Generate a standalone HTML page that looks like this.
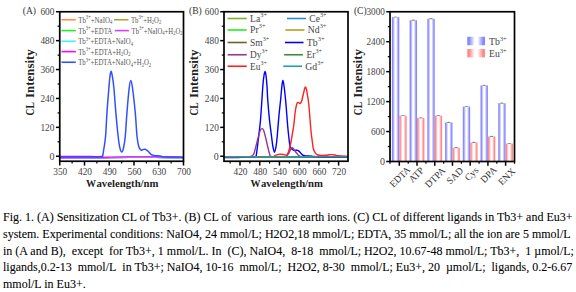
<!DOCTYPE html>
<html><head><meta charset="utf-8"><style>
html,body{margin:0;padding:0;background:#fff;}
body{width:576px;height:292px;position:relative;overflow:hidden;}
.ln{position:absolute;left:3px;width:620px;font-family:"Liberation Serif",serif;font-size:13px;line-height:15px;color:#000;white-space:nowrap;height:15px;transform:scaleX(0.923);transform-origin:0 0;-webkit-text-stroke:0.08px #000}
.j{text-align:justify;text-align-last:justify;white-space:normal}
</style></head><body>
<svg width="576" height="200" viewBox="0 0 576 200" style="position:absolute;left:0;top:0" font-family='"Liberation Serif", serif'>
<text x="29.4" y="13.6" font-size="9.6" text-anchor="middle" font-weight="normal" fill="#333">(A)</text>
<line x1="55.95" y1="156.25" x2="59.75" y2="156.25" stroke="#000" stroke-width="1.5"/>
<text x="54.4" y="159.75" font-size="10" text-anchor="end" font-weight="normal" fill="#444">0</text>
<line x1="55.95" y1="127.35" x2="59.75" y2="127.35" stroke="#000" stroke-width="1.5"/>
<text x="54.4" y="130.85" font-size="10" text-anchor="end" font-weight="normal" textLength="14" lengthAdjust="spacingAndGlyphs" fill="#444">120</text>
<line x1="55.95" y1="98.45" x2="59.75" y2="98.45" stroke="#000" stroke-width="1.5"/>
<text x="54.4" y="101.95" font-size="10" text-anchor="end" font-weight="normal" textLength="14" lengthAdjust="spacingAndGlyphs" fill="#444">240</text>
<line x1="55.95" y1="69.55" x2="59.75" y2="69.55" stroke="#000" stroke-width="1.5"/>
<text x="54.4" y="73.05" font-size="10" text-anchor="end" font-weight="normal" textLength="14" lengthAdjust="spacingAndGlyphs" fill="#444">360</text>
<line x1="55.95" y1="40.65" x2="59.75" y2="40.65" stroke="#000" stroke-width="1.5"/>
<text x="54.4" y="44.15" font-size="10" text-anchor="end" font-weight="normal" textLength="14" lengthAdjust="spacingAndGlyphs" fill="#444">480</text>
<line x1="55.95" y1="11.75" x2="59.75" y2="11.75" stroke="#000" stroke-width="1.5"/>
<text x="54.4" y="15.25" font-size="10" text-anchor="end" font-weight="normal" textLength="14" lengthAdjust="spacingAndGlyphs" fill="#444">600</text>
<line x1="57.55" y1="141.8" x2="59.75" y2="141.8" stroke="#000" stroke-width="1.2"/>
<line x1="57.55" y1="112.9" x2="59.75" y2="112.9" stroke="#000" stroke-width="1.2"/>
<line x1="57.55" y1="84" x2="59.75" y2="84" stroke="#000" stroke-width="1.2"/>
<line x1="57.55" y1="55.1" x2="59.75" y2="55.1" stroke="#000" stroke-width="1.2"/>
<line x1="57.55" y1="26.2" x2="59.75" y2="26.2" stroke="#000" stroke-width="1.2"/>
<line x1="59.75" y1="161.25" x2="59.75" y2="165.55" stroke="#000" stroke-width="1.5"/>
<text x="60.25" y="174.6" font-size="10" text-anchor="middle" font-weight="normal" textLength="14" lengthAdjust="spacingAndGlyphs" fill="#444">350</text>
<line x1="84.5" y1="161.25" x2="84.5" y2="165.55" stroke="#000" stroke-width="1.5"/>
<text x="85" y="174.6" font-size="10" text-anchor="middle" font-weight="normal" textLength="14" lengthAdjust="spacingAndGlyphs" fill="#444">420</text>
<line x1="109.25" y1="161.25" x2="109.25" y2="165.55" stroke="#000" stroke-width="1.5"/>
<text x="109.75" y="174.6" font-size="10" text-anchor="middle" font-weight="normal" textLength="14" lengthAdjust="spacingAndGlyphs" fill="#444">490</text>
<line x1="134" y1="161.25" x2="134" y2="165.55" stroke="#000" stroke-width="1.5"/>
<text x="134.5" y="174.6" font-size="10" text-anchor="middle" font-weight="normal" textLength="14" lengthAdjust="spacingAndGlyphs" fill="#444">560</text>
<line x1="158.75" y1="161.25" x2="158.75" y2="165.55" stroke="#000" stroke-width="1.5"/>
<text x="159.25" y="174.6" font-size="10" text-anchor="middle" font-weight="normal" textLength="14" lengthAdjust="spacingAndGlyphs" fill="#444">630</text>
<line x1="183.5" y1="161.25" x2="183.5" y2="165.55" stroke="#000" stroke-width="1.5"/>
<text x="184" y="174.6" font-size="10" text-anchor="middle" font-weight="normal" textLength="14" lengthAdjust="spacingAndGlyphs" fill="#444">700</text>
<line x1="72.12" y1="161.25" x2="72.12" y2="163.55" stroke="#000" stroke-width="1.2"/>
<line x1="96.88" y1="161.25" x2="96.88" y2="163.55" stroke="#000" stroke-width="1.2"/>
<line x1="121.62" y1="161.25" x2="121.62" y2="163.55" stroke="#000" stroke-width="1.2"/>
<line x1="146.38" y1="161.25" x2="146.38" y2="163.55" stroke="#000" stroke-width="1.2"/>
<line x1="171.12" y1="161.25" x2="171.12" y2="163.55" stroke="#000" stroke-width="1.2"/>
<text transform="translate(33.9,115.4) rotate(-90)" font-size="12" font-weight="bold" fill="#222" textLength="13.2" lengthAdjust="spacingAndGlyphs">CL</text>
<text transform="translate(33.9,97.9) rotate(-90)" font-size="12" font-weight="bold" fill="#222" textLength="48.6" lengthAdjust="spacingAndGlyphs">Intensity</text>
<text x="85.9" y="187.3" font-size="11" font-weight="bold" fill="#222" textLength="10" lengthAdjust="spacingAndGlyphs">W</text>
<text x="96.5" y="187.3" font-size="11" font-weight="bold" fill="#222" textLength="62" lengthAdjust="spacingAndGlyphs">avelength/nm</text>
<path d="M60.5,158.2 C67.08,158.17 91.75,158.1 100,158 C108.25,157.9 105,157.7 110,157.6 C115,157.5 122.5,157.43 130,157.4 C137.5,157.37 146.17,157.35 155,157.4 C163.83,157.45 178.33,157.65 183,157.7" fill="none" stroke="#ff9040" stroke-width="1.4" stroke-linejoin="round" stroke-linecap="round"/>
<path d="M60.5,158.2 C67.08,158.17 91.75,158.1 100,158 C108.25,157.9 105,157.7 110,157.6 C115,157.5 122.5,157.43 130,157.4 C137.5,157.37 146.17,157.35 155,157.4 C163.83,157.45 178.33,157.65 183,157.7" fill="none" stroke="#b0a040" stroke-width="1.4" stroke-linejoin="round" stroke-linecap="round"/>
<path d="M60.5,158.2 C67.08,158.17 91.75,158.1 100,158 C108.25,157.9 105,157.7 110,157.6 C115,157.5 122.5,157.43 130,157.4 C137.5,157.37 146.17,157.35 155,157.4 C163.83,157.45 178.33,157.65 183,157.7" fill="none" stroke="#20f020" stroke-width="1.4" stroke-linejoin="round" stroke-linecap="round"/>
<path d="M60.5,158.2 C67.08,158.17 91.75,158.1 100,158 C108.25,157.9 105,157.7 110,157.6 C115,157.5 122.5,157.43 130,157.4 C137.5,157.37 146.17,157.35 155,157.4 C163.83,157.45 178.33,157.65 183,157.7" fill="none" stroke="#d040ff" stroke-width="1.4" stroke-linejoin="round" stroke-linecap="round"/>
<path d="M60.5,158.2 C67.08,158.17 91.75,158.1 100,158 C108.25,157.9 105,157.7 110,157.6 C115,157.5 122.5,157.43 130,157.4 C137.5,157.37 146.17,157.35 155,157.4 C163.83,157.45 178.33,157.65 183,157.7" fill="none" stroke="#40f0ff" stroke-width="1.4" stroke-linejoin="round" stroke-linecap="round"/>
<path d="M60.5,157.7 C67.08,157.67 91.75,157.6 100,157.5 C108.25,157.4 105,157.2 110,157.1 C115,157 122.5,156.93 130,156.9 C137.5,156.87 146.17,156.85 155,156.9 C163.83,156.95 178.33,157.15 183,157.2" fill="none" stroke="#ff00ff" stroke-width="1.4" stroke-linejoin="round" stroke-linecap="round"/>
<path d="M60.5,156.6 C65.42,156.6 83.17,156.62 90,156.6 C96.83,156.58 99.37,156.77 101.5,156.5 C103.63,156.23 102.4,156.33 102.8,155 C103.2,153.67 103.43,151.67 103.9,148.5 C104.37,145.33 105.08,142.08 105.6,136 C106.12,129.92 106.45,120 107,112 C107.55,104 108.4,94 108.9,88 C109.4,82 109.63,78.8 110,76 C110.37,73.2 110.72,71.2 111.1,71.2 C111.48,71.2 111.83,73.2 112.3,76 C112.77,78.8 113.32,82 113.9,88 C114.48,94 115.1,104 115.8,112 C116.5,120 117.43,130.08 118.1,136 C118.77,141.92 119.18,144.83 119.8,147.5 C120.42,150.17 121.17,152 121.8,152 C122.43,152 123.02,150.17 123.6,147.5 C124.18,144.83 124.73,141.92 125.3,136 C125.87,130.08 126.35,120 127,112 C127.65,104 128.57,93.23 129.2,88 C129.83,82.77 130.25,80.6 130.8,80.6 C131.35,80.6 131.77,82.77 132.5,88 C133.23,93.23 134.45,104 135.2,112 C135.95,120 136.43,130.33 137,136 C137.57,141.67 137.93,143.63 138.6,146 C139.27,148.37 140.27,149.6 141,150.2 C141.73,150.8 142.3,149.77 143,149.6 C143.7,149.43 144.37,148.93 145.2,149.2 C146.03,149.47 147.03,150.35 148,151.2 C148.97,152.05 150,153.6 151,154.3 C152,155 152.82,155.15 154,155.4 C155.18,155.65 156.93,155.65 158.1,155.8 C159.27,155.95 159.97,156.13 161,156.3 C162.03,156.47 162.8,156.68 164.3,156.8 C165.8,156.92 166.88,156.93 170,157 C173.12,157.07 180.83,157.17 183,157.2" fill="none" stroke="#3050ff" stroke-width="1.5" stroke-linejoin="round" stroke-linecap="round"/>
<line x1="61.5" y1="19.75" x2="75.8" y2="19.75" stroke="#ff9040" stroke-width="1.6"/>
<text x="78.2" y="22.65" font-size="8.3" fill="#555" textLength="34.05" lengthAdjust="spacingAndGlyphs">Tb<tspan dy="-3.6" font-size="5.5">3+</tspan><tspan dy="3.6">+NaIO</tspan><tspan dy="1.6" font-size="5.6">4</tspan></text>
<line x1="61.5" y1="30.6" x2="75.8" y2="30.6" stroke="#20f020" stroke-width="1.6"/>
<text x="78.2" y="33.5" font-size="8.3" fill="#555" textLength="34.05" lengthAdjust="spacingAndGlyphs">Tb<tspan dy="-3.6" font-size="5.5">3+</tspan><tspan dy="3.6">+EDTA</tspan></text>
<line x1="61.5" y1="41.25" x2="75.8" y2="41.25" stroke="#40f0ff" stroke-width="1.6"/>
<text x="78.2" y="44.15" font-size="8.3" fill="#555" textLength="54.8" lengthAdjust="spacingAndGlyphs">Tb<tspan dy="-3.6" font-size="5.5">3+</tspan><tspan dy="3.6">+EDTA+NaIO</tspan><tspan dy="1.6" font-size="5.6">4</tspan></text>
<line x1="61.5" y1="51.6" x2="75.8" y2="51.6" stroke="#ff00ff" stroke-width="1.6"/>
<text x="78.2" y="54.5" font-size="8.3" fill="#555" textLength="52.3" lengthAdjust="spacingAndGlyphs">Tb<tspan dy="-3.6" font-size="5.5">3+</tspan><tspan dy="3.6">+EDTA+H</tspan><tspan dy="1.6" font-size="5.6">2</tspan><tspan dy="-1.5">O</tspan><tspan dy="1.6" font-size="5.6">2</tspan></text>
<line x1="61.5" y1="62.25" x2="75.8" y2="62.25" stroke="#3050ff" stroke-width="1.6"/>
<text x="78.2" y="65.15" font-size="8.3" fill="#555" textLength="72.9" lengthAdjust="spacingAndGlyphs">Tb<tspan dy="-3.6" font-size="5.5">3+</tspan><tspan dy="3.6">+EDTA+NaIO</tspan><tspan dy="1.6" font-size="5.6">4</tspan><tspan dy="-1.5">+H</tspan><tspan dy="1.6" font-size="5.6">2</tspan><tspan dy="-1.5">O</tspan><tspan dy="1.6" font-size="5.6">2</tspan></text>
<line x1="114" y1="19.75" x2="128.4" y2="19.75" stroke="#b0a040" stroke-width="1.6"/>
<text x="131" y="22.65" font-size="8.3" fill="#555" textLength="30.25" lengthAdjust="spacingAndGlyphs">Tb<tspan dy="-3.6" font-size="5.5">3+</tspan><tspan dy="3.6">+H</tspan><tspan dy="1.6" font-size="5.6">2</tspan><tspan dy="-1.5">O</tspan><tspan dy="1.6" font-size="5.6">2</tspan></text>
<line x1="114.8" y1="30.6" x2="128.9" y2="30.6" stroke="#d040ff" stroke-width="1.6"/>
<text x="131.6" y="33.5" font-size="8.3" fill="#555" textLength="50.9" lengthAdjust="spacingAndGlyphs">Tb<tspan dy="-3.6" font-size="5.5">3+</tspan><tspan dy="3.6">+NaIO</tspan><tspan dy="1.6" font-size="5.6">4</tspan><tspan dy="-1.5">+H</tspan><tspan dy="1.6" font-size="5.6">2</tspan><tspan dy="-1.5">O</tspan><tspan dy="1.6" font-size="5.6">2</tspan></text>
<rect x="59.75" y="11.75" width="123.75" height="149.5" fill="none" stroke="#000" stroke-width="1.7"/>
<text x="195.4" y="13.6" font-size="9.6" text-anchor="middle" font-weight="normal" fill="#333">(B)</text>
<line x1="220.2" y1="156.25" x2="224" y2="156.25" stroke="#000" stroke-width="1.5"/>
<text x="218.8" y="159.75" font-size="10" text-anchor="end" font-weight="normal" fill="#444">0</text>
<line x1="220.2" y1="127.35" x2="224" y2="127.35" stroke="#000" stroke-width="1.5"/>
<text x="218.8" y="130.85" font-size="10" text-anchor="end" font-weight="normal" textLength="14" lengthAdjust="spacingAndGlyphs" fill="#444">120</text>
<line x1="220.2" y1="98.45" x2="224" y2="98.45" stroke="#000" stroke-width="1.5"/>
<text x="218.8" y="101.95" font-size="10" text-anchor="end" font-weight="normal" textLength="14" lengthAdjust="spacingAndGlyphs" fill="#444">240</text>
<line x1="220.2" y1="69.55" x2="224" y2="69.55" stroke="#000" stroke-width="1.5"/>
<text x="218.8" y="73.05" font-size="10" text-anchor="end" font-weight="normal" textLength="14" lengthAdjust="spacingAndGlyphs" fill="#444">360</text>
<line x1="220.2" y1="40.65" x2="224" y2="40.65" stroke="#000" stroke-width="1.5"/>
<text x="218.8" y="44.15" font-size="10" text-anchor="end" font-weight="normal" textLength="14" lengthAdjust="spacingAndGlyphs" fill="#444">480</text>
<line x1="220.2" y1="11.75" x2="224" y2="11.75" stroke="#000" stroke-width="1.5"/>
<text x="218.8" y="15.25" font-size="10" text-anchor="end" font-weight="normal" textLength="14" lengthAdjust="spacingAndGlyphs" fill="#444">600</text>
<line x1="221.8" y1="141.8" x2="224" y2="141.8" stroke="#000" stroke-width="1.2"/>
<line x1="221.8" y1="112.9" x2="224" y2="112.9" stroke="#000" stroke-width="1.2"/>
<line x1="221.8" y1="84" x2="224" y2="84" stroke="#000" stroke-width="1.2"/>
<line x1="221.8" y1="55.1" x2="224" y2="55.1" stroke="#000" stroke-width="1.2"/>
<line x1="221.8" y1="26.2" x2="224" y2="26.2" stroke="#000" stroke-width="1.2"/>
<line x1="240" y1="161.25" x2="240" y2="165.55" stroke="#000" stroke-width="1.5"/>
<text x="240.5" y="174.6" font-size="10" text-anchor="middle" font-weight="normal" textLength="14" lengthAdjust="spacingAndGlyphs" fill="#444">420</text>
<line x1="259.72" y1="161.25" x2="259.72" y2="165.55" stroke="#000" stroke-width="1.5"/>
<text x="260.22" y="174.6" font-size="10" text-anchor="middle" font-weight="normal" textLength="14" lengthAdjust="spacingAndGlyphs" fill="#444">480</text>
<line x1="279.44" y1="161.25" x2="279.44" y2="165.55" stroke="#000" stroke-width="1.5"/>
<text x="279.94" y="174.6" font-size="10" text-anchor="middle" font-weight="normal" textLength="14" lengthAdjust="spacingAndGlyphs" fill="#444">540</text>
<line x1="299.16" y1="161.25" x2="299.16" y2="165.55" stroke="#000" stroke-width="1.5"/>
<text x="299.66" y="174.6" font-size="10" text-anchor="middle" font-weight="normal" textLength="14" lengthAdjust="spacingAndGlyphs" fill="#444">600</text>
<line x1="318.88" y1="161.25" x2="318.88" y2="165.55" stroke="#000" stroke-width="1.5"/>
<text x="319.38" y="174.6" font-size="10" text-anchor="middle" font-weight="normal" textLength="14" lengthAdjust="spacingAndGlyphs" fill="#444">660</text>
<line x1="338.6" y1="161.25" x2="338.6" y2="165.55" stroke="#000" stroke-width="1.5"/>
<text x="339.1" y="174.6" font-size="10" text-anchor="middle" font-weight="normal" textLength="14" lengthAdjust="spacingAndGlyphs" fill="#444">720</text>
<line x1="230.14" y1="161.25" x2="230.14" y2="163.55" stroke="#000" stroke-width="1.2"/>
<line x1="249.86" y1="161.25" x2="249.86" y2="163.55" stroke="#000" stroke-width="1.2"/>
<line x1="269.58" y1="161.25" x2="269.58" y2="163.55" stroke="#000" stroke-width="1.2"/>
<line x1="289.3" y1="161.25" x2="289.3" y2="163.55" stroke="#000" stroke-width="1.2"/>
<line x1="309.02" y1="161.25" x2="309.02" y2="163.55" stroke="#000" stroke-width="1.2"/>
<line x1="328.74" y1="161.25" x2="328.74" y2="163.55" stroke="#000" stroke-width="1.2"/>
<text transform="translate(197.9,115.6) rotate(-90)" font-size="12" font-weight="bold" fill="#222" textLength="13.2" lengthAdjust="spacingAndGlyphs">CL</text>
<text transform="translate(197.9,98.1) rotate(-90)" font-size="12" font-weight="bold" fill="#222" textLength="48.6" lengthAdjust="spacingAndGlyphs">Intensity</text>
<text x="250.4" y="187.3" font-size="11" font-weight="bold" fill="#222" textLength="10" lengthAdjust="spacingAndGlyphs">W</text>
<text x="261" y="187.3" font-size="11" font-weight="bold" fill="#222" textLength="62" lengthAdjust="spacingAndGlyphs">avelength/nm</text>
<path d="M225,156.8 C230.83,156.78 247.5,156.7 260,156.7 C272.5,156.7 285.5,156.77 300,156.8 C314.5,156.83 339.17,156.88 347,156.9" fill="none" stroke="#80b028" stroke-width="1.4" stroke-linejoin="round" stroke-linecap="round"/>
<path d="M225,156.8 C230.83,156.78 247.5,156.7 260,156.7 C272.5,156.7 285.5,156.77 300,156.8 C314.5,156.83 339.17,156.88 347,156.9" fill="none" stroke="#2890d0" stroke-width="1.4" stroke-linejoin="round" stroke-linecap="round"/>
<path d="M225,156.8 C230.83,156.78 247.5,156.7 260,156.7 C272.5,156.7 285.5,156.77 300,156.8 C314.5,156.83 339.17,156.88 347,156.9" fill="none" stroke="#20f020" stroke-width="1.4" stroke-linejoin="round" stroke-linecap="round"/>
<path d="M225,156.8 C230.83,156.78 247.5,156.7 260,156.7 C272.5,156.7 285.5,156.77 300,156.8 C314.5,156.83 339.17,156.88 347,156.9" fill="none" stroke="#b0a020" stroke-width="1.4" stroke-linejoin="round" stroke-linecap="round"/>
<path d="M225,156.8 C230.83,156.78 247.5,156.7 260,156.7 C272.5,156.7 285.5,156.77 300,156.8 C314.5,156.83 339.17,156.88 347,156.9" fill="none" stroke="#706028" stroke-width="1.4" stroke-linejoin="round" stroke-linecap="round"/>
<path d="M225,156.8 C230.83,156.78 247.5,156.7 260,156.7 C272.5,156.7 285.5,156.77 300,156.8 C314.5,156.83 339.17,156.88 347,156.9" fill="none" stroke="#408840" stroke-width="1.4" stroke-linejoin="round" stroke-linecap="round"/>
<path d="M225,157.6 C227.17,157.58 233.83,157.62 238,157.5 C242.17,157.38 247.12,157.03 250,156.9 C252.88,156.77 254.25,157.02 255.3,156.7 C256.35,156.38 256.02,156.12 256.3,155 C256.58,153.88 256.59,153.17 257,150 C257.41,146.83 258.17,141 258.75,136 C259.33,131 259.98,126 260.5,120 C261.02,114 261.48,106 261.9,100 C262.32,94 262.65,88.08 263,84 C263.35,79.92 263.67,77.58 264,75.5 C264.33,73.42 264.67,71.5 265,71.5 C265.33,71.5 265.67,73.08 266,75.5 C266.33,77.92 266.71,81.92 267,86 C267.29,90.08 267.33,94.33 267.75,100 C268.17,105.67 268.88,114 269.5,120 C270.12,126 270.95,131.67 271.5,136 C272.05,140.33 272.3,143.3 272.8,146 C273.3,148.7 273.95,152.2 274.5,152.2 C275.05,152.2 275.64,148.7 276.1,146 C276.56,143.3 276.77,141.17 277.25,136 C277.73,130.83 278.44,121 279,115 C279.56,109 280.1,105 280.6,100 C281.1,95 281.62,88.27 282,85 C282.38,81.73 282.58,80.4 282.9,80.4 C283.22,80.4 283.45,81.73 283.9,85 C284.35,88.27 284.98,93.33 285.6,100 C286.22,106.67 287.08,119 287.6,125 C288.12,131 288.25,132.33 288.7,136 C289.15,139.67 289.47,144.63 290.3,147 C291.13,149.37 292.75,149.65 293.7,150.2 C294.65,150.75 295.24,150.23 296,150.3 C296.76,150.37 297.5,150.18 298.25,150.6 C299,151.02 299.74,152.03 300.5,152.8 C301.26,153.57 301.88,154.68 302.8,155.2 C303.72,155.72 304.47,155.73 306,155.9 C307.53,156.07 309.67,155.98 312,156.2 C314.33,156.42 314.17,157 320,157.2 C325.83,157.4 342.5,157.37 347,157.4" fill="none" stroke="#0000ff" stroke-width="1.4" stroke-linejoin="round" stroke-linecap="round"/>
<path d="M225,156.8 C228.83,156.8 243.75,156.85 248,156.8 C252.25,156.75 249.75,156.72 250.5,156.5 C251.25,156.28 251.92,156 252.5,155.5 C253.08,155 253.42,155.08 254,153.5 C254.58,151.92 255.28,148.75 256,146 C256.72,143.25 257.57,139.67 258.3,137 C259.03,134.33 259.74,131.4 260.4,130 C261.06,128.6 261.73,128.6 262.25,128.6 C262.77,128.6 262.96,128.6 263.5,130 C264.04,131.4 264.78,134.17 265.5,137 C266.22,139.83 267.12,144.17 267.8,147 C268.48,149.83 269.07,152.42 269.6,154 C270.13,155.58 269.27,156.05 271,156.5 C272.73,156.95 277.5,156.7 280,156.7 C282.5,156.7 284.58,157.02 286,156.5 C287.42,155.98 287.75,154.77 288.5,153.6 C289.25,152.43 289.88,150.47 290.5,149.5 C291.12,148.53 291.62,147.8 292.2,147.8 C292.78,147.8 293.28,148.63 294,149.5 C294.72,150.37 295.58,151.92 296.5,153 C297.42,154.08 298.08,155.37 299.5,156 C300.92,156.63 297.08,156.67 305,156.8 C312.92,156.93 340,156.8 347,156.8" fill="none" stroke="#963696" stroke-width="1.4" stroke-linejoin="round" stroke-linecap="round"/>
<path d="M225,156.9 C232.5,156.88 261.75,156.98 270,156.8 C278.25,156.62 273.25,156.17 274.5,155.8 C275.75,155.43 276.53,154.87 277.5,154.6 C278.47,154.33 279.3,154.22 280.3,154.2 C281.3,154.18 282.52,154.35 283.5,154.5 C284.48,154.65 285.48,155.27 286.2,155.1 C286.92,154.93 287.3,154.43 287.8,153.5 C288.3,152.57 288.71,151.25 289.2,149.5 C289.69,147.75 290.2,145.75 290.75,143 C291.3,140.25 291.99,136 292.5,133 C293.01,130 293.35,128.5 293.8,125 C294.25,121.5 294.71,115.5 295.2,112 C295.69,108.5 296.28,105.6 296.75,104 C297.22,102.4 297.59,102.57 298,102.4 C298.41,102.23 298.85,102.82 299.2,103 C299.55,103.18 299.72,103.75 300.1,103.5 C300.48,103.25 300.95,103.08 301.5,101.5 C302.05,99.92 302.9,96.08 303.4,94 C303.9,91.92 304.17,90.17 304.5,89 C304.83,87.83 305.07,86.92 305.4,87 C305.73,87.08 306.13,88 306.5,89.5 C306.87,91 307.23,93.58 307.6,96 C307.98,98.42 308.33,100 308.75,104 C309.17,108 309.73,115.5 310.1,120 C310.48,124.5 310.67,127.67 311,131 C311.33,134.33 311.72,137.08 312.1,140 C312.48,142.92 312.82,146.42 313.3,148.5 C313.78,150.58 314.43,151.52 315,152.5 C315.57,153.48 316.03,153.93 316.7,154.4 C317.37,154.87 317.45,155.15 319,155.3 C320.55,155.45 324.33,155.38 326,155.3 C327.67,155.22 328.05,154.92 329,154.8 C329.95,154.68 330.7,154.57 331.7,154.6 C332.7,154.63 333.9,154.8 335,155 C336.1,155.2 336.3,155.58 338.3,155.8 C340.3,156.02 345.55,156.22 347,156.3" fill="none" stroke="#ff2020" stroke-width="1.4" stroke-linejoin="round" stroke-linecap="round"/>
<path d="M225,156.8 C230.83,156.78 247.5,156.7 260,156.7 C272.5,156.7 285.5,156.77 300,156.8 C314.5,156.83 339.17,156.88 347,156.9" fill="none" stroke="#20a0a0" stroke-width="1.4" stroke-linejoin="round" stroke-linecap="round"/>
<line x1="227.6" y1="18.5" x2="246.75" y2="18.5" stroke="#80b028" stroke-width="1.6"/>
<text x="250.1" y="21.9" font-size="10.5" fill="#444" textLength="16.9" lengthAdjust="spacingAndGlyphs">La<tspan dy="-5" font-size="6.8">3+</tspan></text>
<line x1="227.6" y1="30" x2="246.75" y2="30" stroke="#20f020" stroke-width="1.6"/>
<text x="250.1" y="33.4" font-size="10.5" fill="#444" textLength="15.4" lengthAdjust="spacingAndGlyphs">Pr<tspan dy="-5" font-size="6.8">3+</tspan></text>
<line x1="227.6" y1="42.5" x2="246.75" y2="42.5" stroke="#706028" stroke-width="1.6"/>
<text x="250.1" y="45.9" font-size="10.5" fill="#444" textLength="19.2" lengthAdjust="spacingAndGlyphs">Sm<tspan dy="-5" font-size="6.8">3+</tspan></text>
<line x1="227.6" y1="54.75" x2="246.75" y2="54.75" stroke="#963696" stroke-width="1.6"/>
<text x="250.1" y="58.15" font-size="10.5" fill="#444" textLength="17.9" lengthAdjust="spacingAndGlyphs">Dy<tspan dy="-5" font-size="6.8">3+</tspan></text>
<line x1="227.6" y1="66.25" x2="246.75" y2="66.25" stroke="#ff2020" stroke-width="1.6"/>
<text x="250.1" y="69.65" font-size="10.5" fill="#444" textLength="16.7" lengthAdjust="spacingAndGlyphs">Eu<tspan dy="-5" font-size="6.8">3+</tspan></text>
<line x1="287" y1="18.5" x2="306" y2="18.5" stroke="#2890d0" stroke-width="1.6"/>
<text x="309.35" y="21.9" font-size="10.5" fill="#444" textLength="17.05" lengthAdjust="spacingAndGlyphs">Ce<tspan dy="-5" font-size="6.8">3+</tspan></text>
<line x1="285.4" y1="30" x2="304.5" y2="30" stroke="#b0a020" stroke-width="1.6"/>
<text x="307.85" y="33.4" font-size="10.5" fill="#444" textLength="18.45" lengthAdjust="spacingAndGlyphs">Nd<tspan dy="-5" font-size="6.8">3+</tspan></text>
<line x1="285" y1="42.5" x2="303.5" y2="42.5" stroke="#0000ff" stroke-width="1.6"/>
<text x="306.85" y="45.9" font-size="10.5" fill="#444" textLength="17.65" lengthAdjust="spacingAndGlyphs">Tb<tspan dy="-5" font-size="6.8">3+</tspan></text>
<line x1="284.1" y1="54.75" x2="302.9" y2="54.75" stroke="#408840" stroke-width="1.6"/>
<text x="306.6" y="58.15" font-size="10.5" fill="#444" textLength="15.4" lengthAdjust="spacingAndGlyphs">Er<tspan dy="-5" font-size="6.8">3+</tspan></text>
<line x1="283.25" y1="66.25" x2="302" y2="66.25" stroke="#20a0a0" stroke-width="1.6"/>
<text x="305.35" y="69.65" font-size="10.5" fill="#444" textLength="18.55" lengthAdjust="spacingAndGlyphs">Gd<tspan dy="-5" font-size="6.8">3+</tspan></text>
<rect x="224" y="11.75" width="124" height="149.5" fill="none" stroke="#000" stroke-width="1.7"/>
<text x="360.3" y="13.6" font-size="9.6" text-anchor="middle" font-weight="normal" fill="#333">(C)</text>
<defs><linearGradient id="gb" x1="0" x2="1" y1="0" y2="0"><stop offset="0" stop-color="#8484ff"/><stop offset="0.12" stop-color="#8c8cff"/><stop offset="0.42" stop-color="#fff"/><stop offset="0.58" stop-color="#fff"/><stop offset="0.88" stop-color="#8c8cff"/><stop offset="1" stop-color="#8484ff"/></linearGradient><linearGradient id="gr" x1="0" x2="1" y1="0" y2="0"><stop offset="0" stop-color="#ff8c8c"/><stop offset="0.12" stop-color="#ff8c8c"/><stop offset="0.42" stop-color="#fff"/><stop offset="0.58" stop-color="#fff"/><stop offset="0.88" stop-color="#ff8c8c"/><stop offset="1" stop-color="#ff8c8c"/></linearGradient></defs>
<rect x="391.9" y="17.1" width="7.4" height="144.4" fill="url(#gb)"/>
<rect x="399.3" y="115.6" width="7.4" height="45.9" fill="url(#gr)"/>
<ellipse cx="395.6" cy="17" rx="1.9" ry="0.6" fill="#8a8a8a"/>
<ellipse cx="403" cy="115.5" rx="1.9" ry="0.6" fill="#8a8a8a"/>
<rect x="409.62" y="20.25" width="7.4" height="141.25" fill="url(#gb)"/>
<rect x="417.02" y="117.9" width="7.4" height="43.6" fill="url(#gr)"/>
<ellipse cx="413.32" cy="20.15" rx="1.9" ry="0.6" fill="#8a8a8a"/>
<ellipse cx="420.72" cy="117.8" rx="1.9" ry="0.6" fill="#8a8a8a"/>
<rect x="427.34" y="18.75" width="7.4" height="142.75" fill="url(#gb)"/>
<rect x="434.74" y="115.6" width="7.4" height="45.9" fill="url(#gr)"/>
<ellipse cx="431.04" cy="18.65" rx="1.9" ry="0.6" fill="#8a8a8a"/>
<ellipse cx="438.44" cy="115.5" rx="1.9" ry="0.6" fill="#8a8a8a"/>
<rect x="445.06" y="122.5" width="7.4" height="39" fill="url(#gb)"/>
<rect x="452.46" y="147.75" width="7.4" height="13.75" fill="url(#gr)"/>
<ellipse cx="448.76" cy="122.4" rx="1.9" ry="0.6" fill="#8a8a8a"/>
<ellipse cx="456.16" cy="147.65" rx="1.9" ry="0.6" fill="#8a8a8a"/>
<rect x="462.78" y="106.6" width="7.4" height="54.9" fill="url(#gb)"/>
<rect x="470.18" y="142.5" width="7.4" height="19" fill="url(#gr)"/>
<ellipse cx="466.48" cy="106.5" rx="1.9" ry="0.6" fill="#8a8a8a"/>
<ellipse cx="473.88" cy="142.4" rx="1.9" ry="0.6" fill="#8a8a8a"/>
<rect x="480.5" y="85.4" width="7.4" height="76.1" fill="url(#gb)"/>
<rect x="487.9" y="136.5" width="7.4" height="25" fill="url(#gr)"/>
<ellipse cx="484.2" cy="85.3" rx="1.9" ry="0.6" fill="#8a8a8a"/>
<ellipse cx="491.6" cy="136.4" rx="1.9" ry="0.6" fill="#8a8a8a"/>
<rect x="498.22" y="103.25" width="7.4" height="58.25" fill="url(#gb)"/>
<rect x="505.62" y="143.6" width="7.4" height="17.9" fill="url(#gr)"/>
<ellipse cx="501.92" cy="103.15" rx="1.9" ry="0.6" fill="#8a8a8a"/>
<ellipse cx="509.32" cy="143.5" rx="1.9" ry="0.6" fill="#8a8a8a"/>
<line x1="386.2" y1="161.5" x2="390" y2="161.5" stroke="#000" stroke-width="1.5"/>
<text x="384.9" y="165" font-size="10" text-anchor="end" font-weight="normal" fill="#444">0</text>
<line x1="386.2" y1="131.55" x2="390" y2="131.55" stroke="#000" stroke-width="1.5"/>
<text x="384.9" y="135.05" font-size="10" text-anchor="end" font-weight="normal" textLength="14" lengthAdjust="spacingAndGlyphs" fill="#444">600</text>
<line x1="386.2" y1="101.6" x2="390" y2="101.6" stroke="#000" stroke-width="1.5"/>
<text x="384.9" y="105.1" font-size="10" text-anchor="end" font-weight="normal" textLength="18.4" lengthAdjust="spacingAndGlyphs" fill="#444">1200</text>
<line x1="386.2" y1="71.65" x2="390" y2="71.65" stroke="#000" stroke-width="1.5"/>
<text x="384.9" y="75.15" font-size="10" text-anchor="end" font-weight="normal" textLength="18.4" lengthAdjust="spacingAndGlyphs" fill="#444">1800</text>
<line x1="386.2" y1="41.7" x2="390" y2="41.7" stroke="#000" stroke-width="1.5"/>
<text x="384.9" y="45.2" font-size="10" text-anchor="end" font-weight="normal" textLength="18.4" lengthAdjust="spacingAndGlyphs" fill="#444">2400</text>
<line x1="386.2" y1="11.75" x2="390" y2="11.75" stroke="#000" stroke-width="1.5"/>
<text x="384.9" y="15.25" font-size="10" text-anchor="end" font-weight="normal" textLength="18.4" lengthAdjust="spacingAndGlyphs" fill="#444">3000</text>
<line x1="387.8" y1="146.53" x2="390" y2="146.53" stroke="#000" stroke-width="1.2"/>
<line x1="387.8" y1="116.58" x2="390" y2="116.58" stroke="#000" stroke-width="1.2"/>
<line x1="387.8" y1="86.62" x2="390" y2="86.62" stroke="#000" stroke-width="1.2"/>
<line x1="387.8" y1="56.67" x2="390" y2="56.67" stroke="#000" stroke-width="1.2"/>
<line x1="387.8" y1="26.72" x2="390" y2="26.72" stroke="#000" stroke-width="1.2"/>
<line x1="399.3" y1="161.5" x2="399.3" y2="165.8" stroke="#000" stroke-width="1.5"/>
<line x1="417.02" y1="161.5" x2="417.02" y2="165.8" stroke="#000" stroke-width="1.5"/>
<line x1="434.74" y1="161.5" x2="434.74" y2="165.8" stroke="#000" stroke-width="1.5"/>
<line x1="452.46" y1="161.5" x2="452.46" y2="165.8" stroke="#000" stroke-width="1.5"/>
<line x1="470.18" y1="161.5" x2="470.18" y2="165.8" stroke="#000" stroke-width="1.5"/>
<line x1="487.9" y1="161.5" x2="487.9" y2="165.8" stroke="#000" stroke-width="1.5"/>
<line x1="505.62" y1="161.5" x2="505.62" y2="165.8" stroke="#000" stroke-width="1.5"/>
<line x1="390" y1="161.5" x2="390" y2="163.8" stroke="#000" stroke-width="1.2"/>
<line x1="408.22" y1="161.5" x2="408.22" y2="163.8" stroke="#000" stroke-width="1.2"/>
<line x1="425.94" y1="161.5" x2="425.94" y2="163.8" stroke="#000" stroke-width="1.2"/>
<line x1="443.66" y1="161.5" x2="443.66" y2="163.8" stroke="#000" stroke-width="1.2"/>
<line x1="461.38" y1="161.5" x2="461.38" y2="163.8" stroke="#000" stroke-width="1.2"/>
<line x1="479.1" y1="161.5" x2="479.1" y2="163.8" stroke="#000" stroke-width="1.2"/>
<line x1="496.82" y1="161.5" x2="496.82" y2="163.8" stroke="#000" stroke-width="1.2"/>
<line x1="514.54" y1="161.5" x2="514.54" y2="163.8" stroke="#000" stroke-width="1.2"/>
<text transform="translate(399.9,176.9) rotate(-45)" font-size="9.6" text-anchor="middle" fill="#333" dy="3.3">EDTA</text>
<text transform="translate(416.25,174.6) rotate(-45)" font-size="9.6" text-anchor="middle" fill="#333" dy="3.3">ATP</text>
<text transform="translate(435.05,177.4) rotate(-45)" font-size="9.6" text-anchor="middle" fill="#333" dy="3.3">DTPA</text>
<text transform="translate(454.8,175.6) rotate(-45)" font-size="9.6" text-anchor="middle" fill="#333" dy="3.3">SAD</text>
<text transform="translate(471.5,173.8) rotate(-45)" font-size="9.6" text-anchor="middle" fill="#333" dy="3.3">Cys</text>
<text transform="translate(488.5,174.6) rotate(-45)" font-size="9.6" text-anchor="middle" fill="#333" dy="3.3">DPA</text>
<text transform="translate(506.55,176.5) rotate(-45)" font-size="9.6" text-anchor="middle" fill="#333" dy="3.3">ENX</text>
<text transform="translate(362.3,115.2) rotate(-90)" font-size="12" font-weight="bold" fill="#222" textLength="13.2" lengthAdjust="spacingAndGlyphs">CL</text>
<text transform="translate(362.3,97.7) rotate(-90)" font-size="12" font-weight="bold" fill="#222" textLength="48.6" lengthAdjust="spacingAndGlyphs">Intensity</text>
<rect x="467.25" y="36.75" width="17.75" height="8.5" fill="url(#gb)"/>
<rect x="467.25" y="49" width="17.75" height="8.4" fill="url(#gr)"/>
<text x="489.1" y="44.9" font-size="10.5" fill="#444" textLength="17.6" lengthAdjust="spacingAndGlyphs">Tb<tspan dy="-3.8" font-size="6.8">3+</tspan></text>
<text x="489.1" y="57.2" font-size="10.5" fill="#444" textLength="17.6" lengthAdjust="spacingAndGlyphs">Eu<tspan dy="-3.8" font-size="6.8">3+</tspan></text>
<rect x="390" y="11.75" width="124.5" height="149.75" fill="none" stroke="#000" stroke-width="1.7"/>
</svg>
<div class="ln" style="top:208.9px">Fig. 1. (A) Sensitization CL of Tb3+. (B) CL of&nbsp; various&nbsp; rare earth ions. (C) CL of different ligands in Tb3+ and Eu3+</div>
<div class="ln" style="top:225.7px">system. Experimental conditions: NaIO4, 24 mmol/L; H2O2,18 mmol/L; EDTA, 35 mmol/L; all the ion are 5 mmol/L</div>
<div class="ln" style="top:242.5px">in (A and B),&nbsp; except&nbsp; for Tb3+, 1 mmol/L. In&nbsp; (C), NaIO4,&nbsp; 8-18&nbsp; mmol/L; H2O2, 10.67-48 mmol/L; Tb3+,&nbsp; 1 &micro;mol/L;</div>
<div class="ln" style="top:259.3px">ligands,0.2-13&nbsp; mmol/L&nbsp; in Tb3+; NaIO4, 10-16&nbsp; mmol/L;&nbsp; H2O2, 8-30&nbsp; mmol/L; Eu3+, 20&nbsp; &micro;mol/L;&nbsp; ligands, 0.2-6.67</div>
<div class="ln" style="top:276.1px">mmol/L in Eu3+.</div>
</body></html>
